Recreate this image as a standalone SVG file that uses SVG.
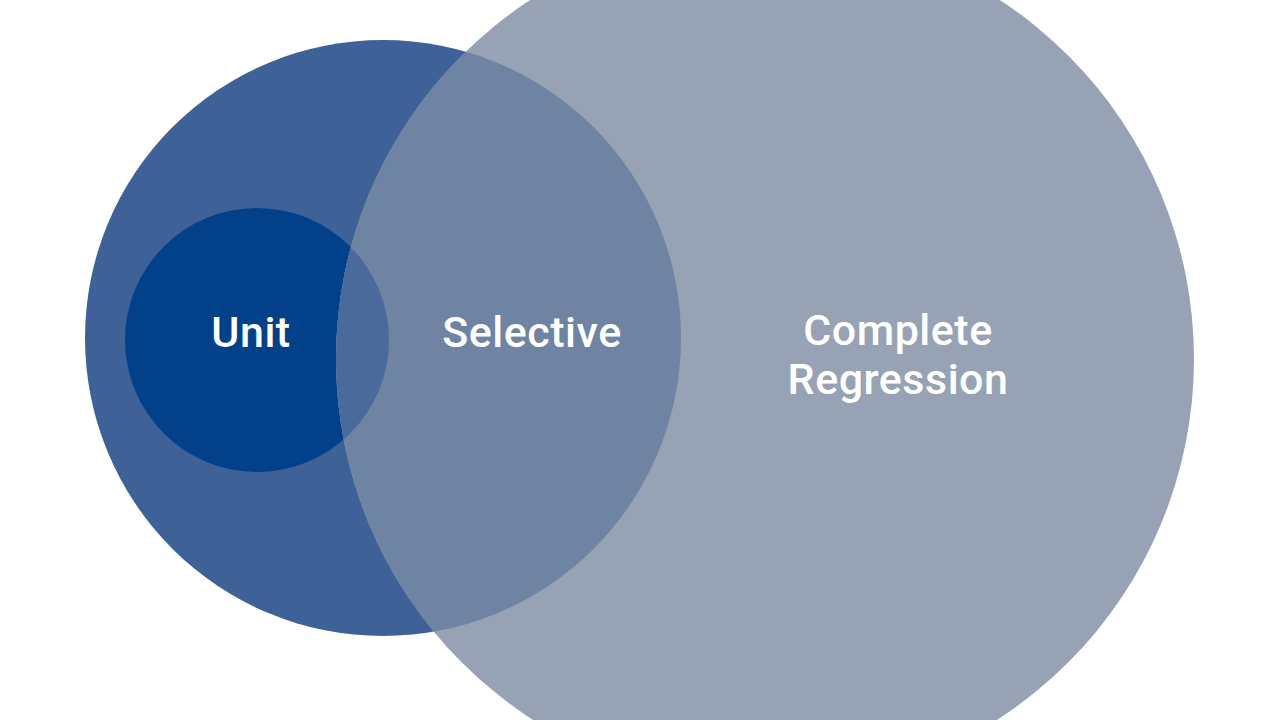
<svg xmlns="http://www.w3.org/2000/svg" width="1280" height="720" viewBox="0 0 1280 720">
  <style>
    .lbl { font-family: Roboto, "Noto Sans", "Liberation Sans", sans-serif; font-size: 43px; font-weight: 500; fill: #ffffff; text-anchor: middle; letter-spacing: 0.5px; }
  </style>
  <defs>
    <clipPath id="bigClip"><circle cx="765" cy="359" r="429"/></clipPath>
  </defs>
  <rect width="1280" height="720" fill="#ffffff"/>
  <g id="selective">
    <circle cx="383" cy="338" r="298" fill="#3e6298"/>
  </g>
  <g id="unit">
    <circle cx="257" cy="340" r="132" fill="#02408a"/>
  </g>
  <g id="complete-regression">
    <circle cx="765" cy="359" r="429" fill="#97a3b4"/>
    <circle cx="383" cy="338" r="298" fill="#6f84a2" clip-path="url(#bigClip)"/>
    <circle cx="257" cy="340" r="132" fill="#4a6a9c" clip-path="url(#bigClip)"/>
  </g>
  <g id="labels">
    <text class="lbl" x="251" y="347">Unit</text>
    <text class="lbl" x="532" y="347">Selective</text>
    <text class="lbl" x="898" y="345">Complete</text>
    <text class="lbl" x="898" y="394">Regression</text>
  </g>
  <g id="connectors"/>
</svg>
